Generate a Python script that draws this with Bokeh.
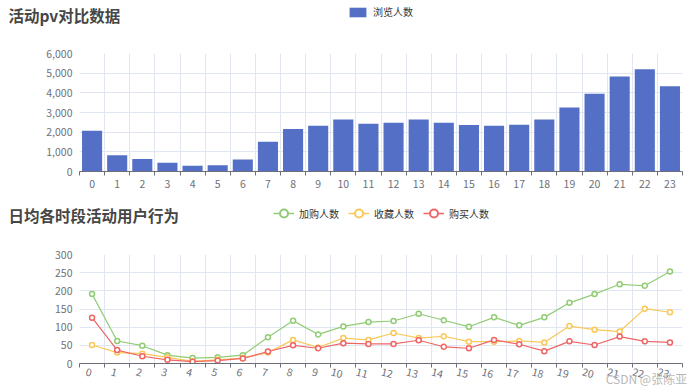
import numpy as np
from bokeh.plotting import figure
from bokeh.models import (FixedTicker, NumeralTickFormatter, Legend, LegendItem,
                          Range1d, ColumnDataSource, Label)
from bokeh.layouts import column, row
from bokeh.embed import file_html
from bokeh.resources import INLINE

hours = list(range(24))
pv = [2070, 830, 630, 440, 290, 320, 610, 1510, 2160, 2330, 2640, 2430,
      2480, 2650, 2480, 2360, 2330, 2380, 2640, 3250, 3950, 4830, 5200, 4340]
cart = [191, 62, 49, 23, 15, 17, 23, 72, 118, 80, 102, 114,
        117, 137, 119, 101, 127, 105, 127, 167, 191, 218, 214, 253]
fav = [51, 30, 27, 17, 6, 10, 15, 30, 65, 44, 70, 65,
       84, 70, 75, 60, 60, 62, 58, 103, 93, 88, 151, 141]
buy = [126, 37, 20, 10, 5, 8, 14, 33, 50, 42, 56, 54,
       54, 64, 46, 42, 65, 53, 34, 61, 51, 74, 61, 58]

title1 = "活动pv对比数据"
title2 = "日均各时段活动用户行为"
watermark = "CSDN @张陈亚"

FONT = "Noto Sans CJK SC"
AXIS_C = "#6e7079"
GRID_C = "#e0e6f1"
W = 690
boundaries = [h - 0.5 for h in hours] + [23.5]

src = ColumnDataSource(dict(x=hours, pv=pv, cart=cart, fav=fav, buy=buy))
# legend-only source: a single undrawable (NaN) entry so legend swatches render
legend_src = ColumnDataSource(dict(x=np.array([np.nan]), y=np.array([np.nan])))


def style(p, ymax, ystep):
    p.outline_line_color = None
    p.background_fill_color = "white"
    p.border_fill_color = "white"
    xa = p.xaxis[0]
    xa.ticker = FixedTicker(ticks=hours, minor_ticks=boundaries)
    xa.axis_line_color = AXIS_C
    xa.major_tick_line_color = None
    xa.major_tick_out = 0
    xa.major_tick_in = 0
    xa.minor_tick_line_color = AXIS_C
    xa.minor_tick_out = 4
    xa.minor_tick_in = 0
    xa.major_label_text_color = AXIS_C
    xa.major_label_text_font = FONT
    xa.major_label_text_font_size = "10.5px"
    xa.major_label_standoff = 4
    ya = p.yaxis[0]
    yt = list(range(0, ymax + 1, ystep))
    ya.ticker = FixedTicker(ticks=yt)
    ya.axis_line_color = None
    ya.major_tick_line_color = None
    ya.minor_tick_line_color = None
    ya.major_tick_out = 0
    ya.major_label_standoff = 7
    ya.major_label_text_color = AXIS_C
    ya.major_label_text_font = FONT
    ya.major_label_text_font_size = "10.5px"
    p.xgrid.ticker = FixedTicker(ticks=boundaries)
    p.ygrid.ticker = FixedTicker(ticks=yt)
    p.xgrid.grid_line_color = GRID_C
    p.ygrid.grid_line_color = GRID_C


def header(h):
    hp = figure(width=W, height=h, x_range=Range1d(0, W), y_range=Range1d(0, h),
                x_axis_type=None, y_axis_type=None, output_backend="svg",
                toolbar_location=None, min_border=0,
                min_border_left=0, min_border_right=0, min_border_top=0, min_border_bottom=0)
    hp.outline_line_color = None
    hp.grid.visible = False
    return hp


def make_legend(items, loc, gh):
    return Legend(items=items, location=loc, orientation="horizontal",
                  glyph_width=21, glyph_height=gh, label_standoff=5, spacing=9,
                  padding=0, margin=0, border_line_color=None, background_fill_alpha=0,
                  label_text_font=FONT, label_text_font_size="10px", label_text_color="#333333")


def title_label(text, y):
    return Label(x=8, y=y, text=text, text_font=FONT, text_font_size="15.5px",
                 text_font_style="bold", text_color="#464646", text_baseline="middle")


# ---- header 1 ----
h1 = header(40)
hb = h1.vbar(x="x", top="y", width=0.8, source=legend_src, fill_color="#5470c6", line_color=None)
h1.add_layout(make_legend([LegendItem(label="浏览人数", renderers=[hb])], (347, 21), 12))
h1.add_layout(title_label(title1, 26))

# ---- chart 1 ----
p1 = figure(width=W, height=158, x_range=Range1d(-0.5, 23.5), y_range=Range1d(0, 6000),
            output_backend="svg", toolbar_location=None,
            min_border_left=79, min_border_right=8, min_border_top=13, min_border_bottom=27)
style(p1, 6000, 1000)
p1.yaxis[0].formatter = NumeralTickFormatter(format="0,0")
p1.vbar(x="x", top="pv", width=0.8, source=src, fill_color="#5470c6", line_color=None)

# ---- header 2 ----
series = [("加购人数", "cart", "#91cc75"), ("收藏人数", "fav", "#fac858"), ("购买人数", "buy", "#ee6666")]
h2 = header(42)
items = []
for name, col, c in series:
    rl = h2.line(x="x", y="y", source=legend_src, line_color=c, line_width=1.5)
    rs = h2.scatter(x="x", y="y", source=legend_src, size=8, marker="circle",
                    fill_color="white", line_color=c, line_width=2)
    items.append(LegendItem(label=name, renderers=[rl, rs]))
h2.add_layout(make_legend(items, (273, 17), 20))
h2.add_layout(title_label(title2, 25.5))

# ---- chart 2 ----
p2 = figure(width=W, height=150, x_range=Range1d(-0.5, 23.5), y_range=Range1d(0, 300),
            output_backend="svg", toolbar_location=None,
            min_border_left=79, min_border_right=8, min_border_top=14, min_border_bottom=27)
style(p2, 300, 50)
xa2 = p2.xaxis[0]
# rotated labels end at their category centre (as in the reference)
label_pos = [round(h - 0.24 * len(str(h)), 2) for h in hours]
xa2.ticker = FixedTicker(ticks=label_pos, minor_ticks=boundaries)
xa2.major_label_overrides = {lp: str(h) for lp, h in zip(label_pos, hours)}
xa2.major_label_orientation = -0.26
# watermark as the (end-aligned, centred) axis label; ideographic spaces shift it left
xa2.axis_label = watermark + "\u3000" * 6
xa2.axis_label_align = "end"
xa2.axis_label_standoff = -15
xa2.axis_label_text_font = FONT
xa2.axis_label_text_font_style = "normal"
xa2.axis_label_text_font_size = "12px"
xa2.axis_label_text_color = "#b8b8b8"
for name, col, c in series:
    p2.line(x="x", y=col, source=src, line_color=c, line_width=1.2)
    p2.scatter(x="x", y=col, source=src, size=5, marker="circle",
               fill_color="white", line_color=c, line_width=1.5)

layout = column(row(h1), p1, row(h2), p2, spacing=0)
open("out.html", "w").write(file_html(layout, INLINE))
